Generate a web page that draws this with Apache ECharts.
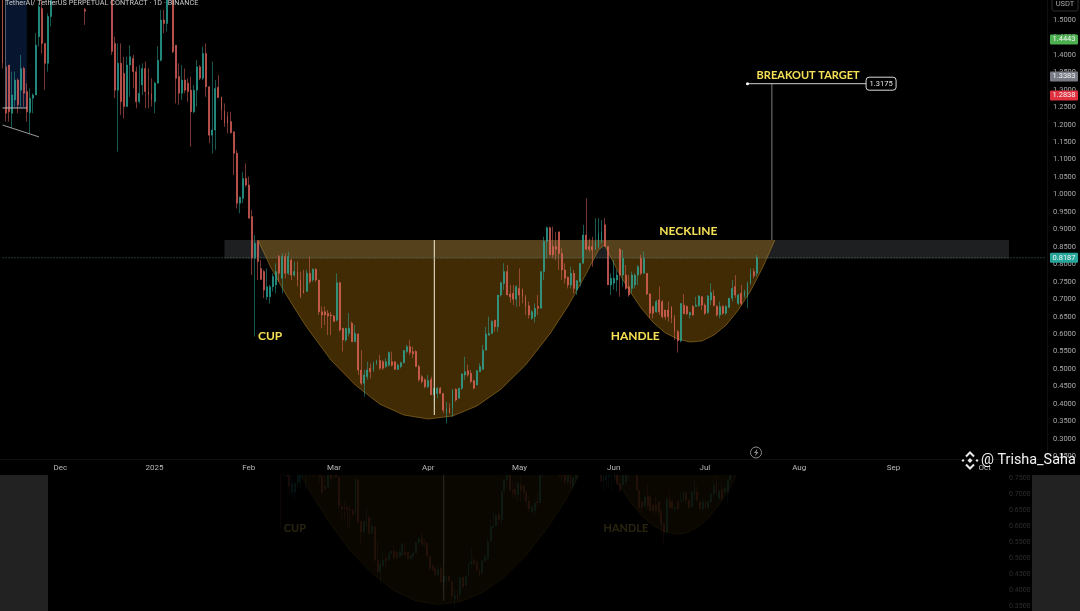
<!DOCTYPE html>
<html><head><meta charset="utf-8">
<style>html,body{margin:0;padding:0;background:#000}#c{width:1080px;height:611px}</style>
<script src="https://cdn.jsdelivr.net/npm/echarts@6/dist/echarts.min.js"></script>
</head><body><div id="c"></div>
<script>
const firstDay='2024-11-12', dayCount=344;
const tickDates=['2024-12-01','2025-01-01','2025-02-01','2025-03-01','2025-04-01','2025-05-01','2025-06-01','2025-07-01','2025-08-01','2025-09-01','2025-10-01'];
const tickLabels=['Dec','2025','Feb','Mar','Apr','May','Jun','Jul','Aug','Sep','Oct'];
const priceTicks=[0.25,0.3,0.35,0.4,0.45,0.5,0.55,0.6,0.65,0.7,0.75,0.8,0.85,0.9,0.95,1,1.05,1.1,1.15,1.2,1.25,1.3,1.35,1.4,1.45,1.5];
const mirrorTicks=[0.35,0.4,0.45,0.5,0.55,0.6,0.65,0.7,0.75];
const _=null;
const opens=[
1.6,1.366,1.371,1.233,1.271,1.328,1.299,1.361,1.295,1.235,
1.276,1.285,1.452,1.533,1.433,1.376,1.51,_,_,_,
_,_,_,_,_,_,_,1.53,_,_,
_,_,_,_,_,_,1.6,1.433,1.299,1.376,
1.347,1.252,1.371,1.39,1.352,1.266,1.314,1.361,1.295,1.29,
1.266,1.319,1.385,1.5,1.49,_,1.6,1.428,1.338,1.29,
1.328,1.319,1.299,1.237,1.299,1.366,1.333,1.404,1.309,1.17,
1.185,1.307,1.28,1.24,1.225,1.209,1.18,1.118,.975,.989,
1.046,1.027,.937,.817,.865,.788,.779,.707,.707,.736,
.741,.822,.76,.822,.774,.812,.769,.779,.755,.726,
.722,.774,.755,.786,.755,.664,.664,.66,.655,.652,
.64,.747,.617,.583,.602,.631,.578,.6,.497,.459,
.478,.502,.497,.516,.524,.521,.507,.511,.521,.521,
.499,.507,.518,.55,.564,.55,.55,.507,.478,.469,
.449,.47,.426,.43,.445,.43,.373,.389,.387,.442,
.416,.445,.483,.495,.488,.466,.454,.492,.499,.554,
.597,.602,.64,.621,.712,.745,.779,.715,.717,.7,
.731,.727,.707,.681,.645,.65,.679,.674,.779,.865,
.905,.851,.851,.893,.831,.784,.763,.741,.774,.727,
.75,.803,.884,.851,.851,.843,.851,.865,.913,.851,
.741,.746,.755,.843,.769,.769,.736,.731,.741,.769,
.817,.774,.774,.715,.679,.664,.698,.693,.669,.669,
.679,.648,.607,.581,.683,.679,.655,.679,.679,.681,
.707,.683,.662,.698,.709,.679,.655,.679,.66,.677,
.703,.736,.688,.717,.709,.707,.746,.779,.774];
const closes=[
1.376,1.233,1.237,1.285,1.328,1.257,1.361,1.29,1.237,1.276,
1.285,1.428,1.538,1.433,1.376,1.51,1.6,_,_,_,
_,_,_,_,_,_,_,1.525,_,_,
_,_,_,_,_,_,1.41,1.299,1.376,1.266,
1.252,1.371,1.395,1.352,1.266,1.29,1.361,1.295,1.285,1.271,
1.319,1.385,1.5,1.49,1.58,_,1.409,1.333,1.29,1.328,
1.299,1.295,1.237,1.299,1.366,1.333,1.404,1.309,1.17,1.185,
1.304,1.278,1.242,1.204,1.204,1.177,1.118,.975,.992,1.046,
1.027,.932,.817,.86,.808,.757,.726,.736,.736,.765,
.779,.774,.822,.774,.822,.769,.779,.755,.707,.717,
.774,.75,.786,.755,.664,.655,.655,.652,.652,.636,
.747,.612,.583,.617,.617,.578,.602,.497,.459,.483,
.497,.492,.516,.524,.502,.502,.521,.547,.511,.499,
.511,.518,.553,.564,.547,.543,.507,.469,.464,.449,
.467,.426,.445,.445,.43,.382,.387,.373,.442,.411,
.445,.486,.492,.483,.464,.445,.495,.507,.554,.6,
.602,.636,.621,.712,.747,.779,.712,.707,.7,.736,
.712,.707,.679,.655,.664,.674,.674,.779,.865,.905,
.827,.827,.843,.831,.784,.76,.741,.774,.731,.753,
.803,.884,.843,.843,.841,.865,.889,.893,.851,.741,
.76,.76,.769,.769,.817,.731,.712,.769,.769,.793,
.774,.817,.715,.66,.66,.693,.664,.65,.65,.65,
.645,.607,.581,.688,.658,.658,.662,.655,.683,.709,
.683,.66,.709,.719,.683,.655,.679,.66,.679,.703,
.731,.712,.712,.688,.722,.746,.774,.767,.8187];
const lows=[
1.361,1.209,1.209,1.19,1.252,1.233,1.252,1.252,1.209,1.175,
1.233,1.285,1.424,1.404,1.299,1.352,1.481,_,_,_,
_,_,_,_,_,_,_,1.486,_,_,
_,_,_,_,_,_,1.4,1.276,1.123,1.228,
1.218,1.252,1.28,1.304,1.247,1.261,1.285,1.247,1.247,1.252,
1.233,1.319,1.381,1.462,1.467,_,1.405,1.261,1.257,1.271,
1.29,1.266,1.137,1.233,1.252,1.328,1.328,1.28,1.147,1.118,
1.128,1.276,1.214,1.194,1.175,1.175,1.056,.96,.946,.975,
1.022,.932,.769,.593,.755,.755,.703,.698,.688,.722,
.717,.75,.717,.76,.769,.755,.765,.736,.703,.717,
.722,.745,.75,.75,.655,.617,.626,.597,.597,.636,
.636,.607,.55,.578,.593,.578,.578,.483,.454,.421,
.469,.473,.492,.511,.497,.497,.502,.507,.507,.497,
.497,.502,.516,.545,.54,.531,.507,.464,.459,.445,
.445,.426,.406,.416,.43,.373,.344,.373,.363,.406,
.416,.44,.469,.478,.459,.442,.454,.492,.497,.554,
.597,.602,.607,.607,.707,.726,.712,.69,.683,.678,
.679,.688,.655,.645,.641,.633,.655,.674,.755,.817,
.827,.817,.812,.784,.755,.745,.731,.731,.717,.712,
.736,.803,.841,.836,.793,.841,.846,.86,.851,.741,
.712,.727,.722,.707,.736,.727,.707,.717,.731,.741,
.769,.774,.712,.645,.645,.661,.655,.645,.641,.636,
.631,.583,.547,.576,.658,.655,.645,.652,.679,.679,
.669,.655,.658,.683,.679,.65,.645,.655,.655,.674,
.693,.703,.683,.683,.703,.674,.741,.76,.765];
const highs=[
1.62,1.395,1.371,1.352,1.352,1.333,1.4,1.366,1.319,1.304,
1.29,1.462,1.548,1.57,1.433,1.519,1.63,_,_,_,
_,_,_,_,_,_,_,1.535,_,_,
_,_,_,_,_,_,1.65,1.452,1.433,1.433,
1.395,1.395,1.428,1.4,1.366,1.371,1.376,1.381,1.361,1.333,
1.323,1.424,1.529,1.529,1.6,_,1.62,1.428,1.376,1.371,
1.361,1.333,1.338,1.314,1.385,1.371,1.424,1.433,1.309,1.381,
1.328,1.342,1.28,1.261,1.237,1.237,1.18,1.128,.994,1.065,
1.089,1.051,.956,.884,.87,.812,.784,.788,.741,.774,
.803,.827,.831,.831,.836,.817,.808,.808,.779,.784,
.784,.822,.788,.788,.755,.679,.679,.669,.664,.655,
.774,.75,.617,.617,.66,.636,.626,.602,.554,.497,
.521,.516,.521,.526,.54,.526,.531,.55,.55,.521,
.516,.521,.554,.569,.583,.564,.554,.512,.483,.473,
.483,.478,.445,.449,.449,.43,.406,.402,.442,.445,
.445,.488,.535,.512,.497,.469,.497,.516,.569,.621,
.65,.64,.64,.712,.75,.803,.798,.741,.741,.741,
.788,.731,.712,.693,.669,.688,.712,.779,.879,.908,
.908,.908,.893,.893,.846,.803,.765,.793,.784,.755,
.803,.913,.989,.874,.879,.932,.932,.927,.932,.851,
.774,.812,.784,.846,.841,.798,.769,.779,.774,.798,
.827,.836,.774,.717,.679,.698,.736,.698,.669,.693,
.679,.655,.612,.688,.715,.683,.664,.683,.707,.712,
.709,.688,.712,.746,.727,.683,.693,.683,.683,.703,
.755,.769,.716,.741,.727,.75,.788,.788,.827];
// pattern outline: [day index, price]
const cupOutline=[[84,.8696],[88,.7951],[92,.7321],[96,.6748],[100,.6203],[108,.5258],[116,.4542],[124,.3997],[132,.3682],[140,.3567],[148,.3653],[156,.394],[164,.4427],[172,.5115],[180,.6003],[186,.6805],[192,.7736],[196,.841],[198,.8553]];
const handleOutline=[[202,.7865],[206,.7264],[210,.6748],[214,.6332],[218,.6032],[222,.586],[226,.5774],[230,.5802],[234,.5974],[238,.6261],[242,.6691],[246,.7235],[250,.7908],[254,.8696]];
const neckTop=.8696, neckBottom=.8166, neckStart=73, neckEnd=331;
const lastPrice=.8187, targetPrice=1.3175, targetStart=245, targetEnd=284, targetDrop=253, cupMarker=142, cupMarkerLow=.3682;
const priceTags=[{v:1.4443,c:'#4caf50'},{v:1.3383,c:'#787b86'},{v:1.2838,c:'#e0313f'},{v:.8187,c:'#26a69a'}];
const notes=[{t:'CUP',i:84,p:.5946,s:12},{t:'HANDLE',i:200,p:.5946,s:12},{t:'NECKLINE',i:216,p:.8954,s:12},{t:'BREAKOUT TARGET',i:248,p:1.3424,s:11}];

const days=[];
for(let k=0;k<dayCount;k++){days.push(new Date(Date.parse(firstDay+'T00:00:00Z')+k*864e5).toISOString().slice(0,10));}
const candles=opens.map((o,i)=>o===null?['-','-','-','-']:[o,closes[i],lows[i],highs[i]]);
const mirrorMin=.3366, mirrorMax=.7616;
const fit=v=>Math.min(mirrorMax,Math.max(mirrorMin,v));
const mirrorCandles=candles.map(c=>(c[0]==='-'||c[2]>=mirrorMax)?['-','-','-','-']:c.map(fit));
const UP='#2fb3a3',DOWN='#ef6a60';
const mirrorK=.16, mirrorCandleK=.11;

function under(k){return (params,api)=>{
  const ch=[];
  const a=api.coord([neckStart,neckTop]),b=api.coord([neckEnd,neckBottom]);
  ch.push({type:'rect',shape:{x:a[0],y:a[1],width:b[0]-a[0],height:b[1]-a[1]},style:{fill:'rgba(120,130,135,'+(.24*k)+')'}});
  const pts=cupOutline.concat(handleOutline).map(d=>api.coord(d));
  ch.push({type:'polygon',shape:{points:pts},style:{fill:'rgba(255,170,20,'+(.25*k)+')'}});
  ch.push({type:'polyline',shape:{points:pts},style:{fill:null,stroke:'rgba(200,150,45,'+(.45*k)+')',lineWidth:1}});
  if(k===1){
    const p=api.coord([1,1.6]),q=api.coord([8,1.2479]);
    ch.push({type:'rect',shape:{x:p[0],y:p[1],width:q[0]-p[0],height:q[1]-p[1]},style:{fill:'#07152e'}});
  }
  return {type:'group',children:ch};
};}
function over(k,fs){return (params,api)=>{
  const ch=[];
  const line=(a,b,stroke,lw,dash)=>{const p=api.coord(a),q=api.coord(b);
    ch.push({type:'line',shape:{x1:p[0],y1:p[1],x2:q[0],y2:q[1]},style:{stroke,lineWidth:lw,lineDash:dash||null,opacity:k}});};
  line([cupMarker,neckTop],[cupMarker,cupMarkerLow],'#f4eed6',1);
  line([targetDrop,targetPrice],[targetDrop,neckTop],'#5a5a5a',1.4);
  line([targetStart,targetPrice],[targetEnd,targetPrice],'#cfcfcf',1);
  line([1,1.6],[1,1.2479],'#55606e',1);
  line([0,1.2479],[8,1.2479],'#b9b9b9',1);
  line([0,1.199],[12,1.165],'#9a9a9a',1);
  line([0,lastPrice],[dayCount-1,lastPrice],'#4f6e69',1,[1,2]);
  const d=api.coord([targetStart,targetPrice]);
  ch.push({type:'circle',shape:{cx:d[0],cy:d[1],r:1.5},style:{fill:'#fff',opacity:k}});
  const e=api.coord([targetEnd,targetPrice]);
  ch.push({type:'rect',shape:{x:e[0],y:e[1]-6.5,width:30,height:13,r:3},style:{fill:'#000',stroke:'#d9d9d9',lineWidth:1,opacity:k}});
  ch.push({type:'text',style:{x:e[0]+15,y:e[1],text:targetPrice.toFixed(4),fill:'#e6e6e6',fontSize:7.5*fs,fontFamily:'Roboto',align:'center',verticalAlign:'middle',opacity:k}});
  notes.forEach(n=>{const c=api.coord([n.i,n.p]);
    ch.push({type:'text',style:{x:c[0],y:c[1],text:n.t,fill:'#f6e056',fontSize:n.s*fs,fontWeight:700,fontFamily:'Lato',align:'left',verticalAlign:'middle',opacity:k}});});
  return {type:'group',children:ch};
};}
function tags(params,api){
  const ch=[];
  priceTags.forEach(t=>{const y=api.coord([0,t.v])[1];
    ch.push({type:'rect',shape:{x:1050,y:y-5,width:28,height:10,r:1},style:{fill:t.c}});
    ch.push({type:'text',style:{x:1064,y:y,text:t.v.toFixed(4),fill:'#f4f4f4',fontSize:7.5,fontFamily:'Roboto',align:'center',verticalAlign:'middle'}});
  });
  return {type:'group',children:ch};
}

const chart=echarts.init(document.getElementById('c'),null,{renderer:'canvas',width:1080,height:611});
const catAxis=(gi,show)=>({type:'category',gridIndex:gi,data:days,boundaryGap:true,
  axisLine:{show:show,lineStyle:{color:'#101010',width:1}},axisTick:{show:false},splitLine:{show:false},
  axisLabel:{show:show,interval:(i,v)=>tickDates.includes(v),formatter:v=>tickLabels[tickDates.indexOf(v)]||'',color:'#b8b8b8',fontSize:8,fontFamily:'Roboto',margin:5}});
chart.setOption({
  animation:false,backgroundColor:'#000',
  title:{text:'TetherAI/ TetherUS PERPETUAL CONTRACT · 1D · BINANCE',left:5,top:0,padding:0,textStyle:{fontSize:7.3,fontWeight:'normal',color:'#c8c8c8',fontFamily:'Roboto'}},
  grid:[{left:1,width:1046,top:0,height:459},{left:51,width:948,top:475,height:136}],
  xAxis:[catAxis(0,true),catAxis(1,false)],
  yAxis:[
    {type:'value',gridIndex:0,position:'right',min:.2421,max:1.5573,splitLine:{show:false},axisTick:{show:false},
     axisLine:{show:true,lineStyle:{color:'#101010'}},
     axisLabel:{customValues:priceTicks,formatter:v=>Number(v).toFixed(4),color:'#aaaaaa',fontSize:7.5,fontFamily:'Roboto',margin:6}},
    {type:'value',gridIndex:1,position:'right',min:mirrorMin,max:mirrorMax,splitLine:{show:false},axisTick:{show:false},axisLine:{show:false},
     axisLabel:{customValues:mirrorTicks,formatter:v=>Number(v).toFixed(4),color:'#2e2e2e',fontSize:7,fontFamily:'Roboto',margin:10}}
  ],
  series:[
    {type:'custom',name:'Pattern',xAxisIndex:0,yAxisIndex:0,z:1,silent:true,clip:true,data:[[0,1]],renderItem:under(1)},
    {type:'candlestick',name:'Price',xAxisIndex:0,yAxisIndex:0,z:2,barWidth:1.4,data:candles,itemStyle:{color:UP,color0:DOWN,borderColor:UP,borderColor0:DOWN,borderWidth:.5}},
    {type:'custom',name:'Notes',xAxisIndex:0,yAxisIndex:0,z:3,silent:true,clip:true,data:[[0,1]],renderItem:over(1,1)},
    {type:'custom',name:'Tags',xAxisIndex:0,yAxisIndex:0,z:4,silent:true,clip:false,data:[[0,1]],renderItem:tags},
    {type:'custom',name:'Pattern shadow',xAxisIndex:1,yAxisIndex:1,z:1,silent:true,clip:true,data:[[0,.5]],renderItem:under(mirrorK)},
    {type:'candlestick',name:'Price shadow',xAxisIndex:1,yAxisIndex:1,z:2,barWidth:1.4,data:mirrorCandles,itemStyle:{opacity:mirrorCandleK,color:UP,color0:DOWN,borderColor:UP,borderColor0:DOWN,borderWidth:.5}},
    {type:'custom',name:'Notes shadow',xAxisIndex:1,yAxisIndex:1,z:3,silent:true,clip:true,data:[[0,.5]],renderItem:over(mirrorK,.91)}
  ],
  graphic:[
    {type:'rect',shape:{x:0,y:475,width:48,height:136},style:{fill:'#222222'},z:5},
    {type:'rect',shape:{x:1032,y:475,width:48,height:136},style:{fill:'#222222'},z:5},
    {type:'rect',shape:{x:1052,y:-2,width:26,height:13,r:2},style:{fill:'#000',stroke:'#2c2c2c',lineWidth:1},z:5},
    {type:'text',style:{x:1065,y:4,text:'USDT',fill:'#a8a8a8',fontSize:7.5,fontFamily:'Roboto',align:'center',verticalAlign:'middle'},z:6},
    {type:'circle',shape:{cx:756,cy:452.5,r:5.5},style:{fill:'#000',stroke:'#8a8a8a',lineWidth:1},z:5},
    {type:'polygon',shape:{points:[[757.5,448.5],[754,453],[756,453],[755,456.5],[758.5,452],[756.5,452]]},style:{fill:'#8a8a8a'},z:6},
    {type:'polyline',shape:{points:[[966,456.5],[970,452.5],[974,456.5]]},style:{stroke:'#e8e8e8',fill:null,lineWidth:2},z:6},
    {type:'polyline',shape:{points:[[966,464.5],[970,468.5],[974,464.5]]},style:{stroke:'#e8e8e8',fill:null,lineWidth:2},z:6},
    {type:'polygon',shape:{points:[[970,458],[972.5,460.5],[970,463],[967.5,460.5]]},style:{fill:'#e8e8e8'},z:6},
    {type:'polygon',shape:{points:[[963,459],[964.5,460.5],[963,462],[961.5,460.5]]},style:{fill:'#e8e8e8'},z:6},
    {type:'polygon',shape:{points:[[977,459],[978.5,460.5],[977,462],[975.5,460.5]]},style:{fill:'#e8e8e8'},z:6},
    {type:'text',style:{x:981,y:460.5,text:'@ Trisha_Saha',fill:'#f2f2f2',fontSize:14.4,fontFamily:'Roboto',align:'left',verticalAlign:'middle'},z:6}
  ]
});
</script></body></html>
